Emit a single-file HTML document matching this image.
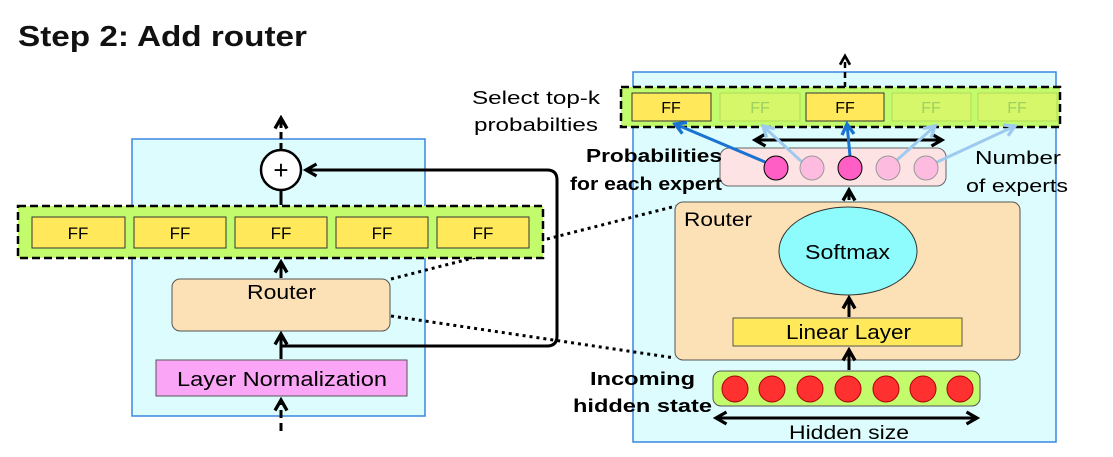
<!DOCTYPE html>
<html><head><meta charset="utf-8"><style>
html,body{margin:0;padding:0;background:#fff;}
svg{display:block;font-family:"Liberation Sans",sans-serif;}
</style></head><body>
<svg width="1113" height="457" viewBox="0 0 1113 457">
<defs>
<marker id="ah" viewBox="0 0 10 10" refX="8" refY="5" markerWidth="5" markerHeight="5" orient="auto-start-reverse"><path d="M1,1 L8,5 L1,9" fill="none" stroke="#000" stroke-width="2.2"/></marker>
<marker id="ab" viewBox="0 0 10 10" refX="8" refY="5" markerWidth="5" markerHeight="5" orient="auto"><path d="M1,1 L8,5 L1,9" fill="none" stroke="#1a73d0" stroke-width="2.2"/></marker>
<marker id="al" viewBox="0 0 10 10" refX="8" refY="5" markerWidth="5" markerHeight="5" orient="auto"><path d="M1,1 L8,5 L1,9" fill="none" stroke="#9fcaef" stroke-width="2.2"/></marker>
</defs>
<text x="18" y="46" font-size="29" font-weight="bold" fill="#111" textLength="289" lengthAdjust="spacingAndGlyphs">Step 2: Add router</text>

<rect x="132" y="139" width="293" height="277" fill="#dcfcfd" stroke="#3a86e0" stroke-width="1.5"/>
<rect x="633" y="72" width="423" height="370" fill="#dcfcfd" stroke="#3a86e0" stroke-width="1.5"/>

<!-- dotted -->
<line x1="391" y1="279" x2="676" y2="206" stroke="#000" stroke-width="3" stroke-dasharray="3,4"/>
<line x1="391" y1="316" x2="675" y2="358" stroke="#000" stroke-width="3" stroke-dasharray="3,4"/>

<!-- left -->
<line x1="281" y1="150" x2="281" y2="118" stroke="#000" stroke-width="3" stroke-dasharray="7,4" marker-end="url(#ah)"/>
<line x1="281" y1="205" x2="281" y2="190" stroke="#000" stroke-width="3"/>
<circle cx="281" cy="170" r="20" fill="#fff" stroke="#000" stroke-width="2.5"/>
<text x="281" y="179" font-size="26" text-anchor="middle">+</text>
<rect x="18" y="206" width="525" height="52" fill="#c2fc6c" stroke="#000" stroke-width="2.5" stroke-dasharray="8,4"/>
<g fill="#ffe95a" stroke="#333" stroke-width="1">
<rect x="32" y="217" width="93" height="31"/><rect x="134" y="217" width="92" height="31"/><rect x="235" y="217" width="92" height="31"/><rect x="336" y="217" width="92" height="31"/><rect x="437" y="217" width="92" height="31"/></g>
<g font-size="17" text-anchor="middle"><text x="78" y="239">FF</text><text x="180" y="239">FF</text><text x="281" y="239">FF</text><text x="382" y="239">FF</text><text x="483" y="239">FF</text></g>
<line x1="281" y1="278" x2="281" y2="262" stroke="#000" stroke-width="3" marker-end="url(#ah)"/>
<rect x="172" y="279" width="218" height="52" rx="8" fill="#fde1b6" stroke="#555" stroke-width="1"/>
<text x="247" y="299" font-size="20" textLength="69" lengthAdjust="spacingAndGlyphs">Router</text>
<line x1="281" y1="359" x2="281" y2="334" stroke="#000" stroke-width="3" marker-end="url(#ah)"/>
<path d="M281,346 H547 Q557,346 557,336 V180 Q557,170 547,170 H306" fill="none" stroke="#000" stroke-width="3" marker-end="url(#ah)"/>
<rect x="156" y="360" width="251" height="36" fill="#fba5f7" stroke="#555" stroke-width="1"/>
<text x="177" y="386" font-size="20" textLength="210" lengthAdjust="spacingAndGlyphs">Layer Normalization</text>
<line x1="281" y1="431" x2="281" y2="400" stroke="#000" stroke-width="3" stroke-dasharray="8,5" marker-end="url(#ah)"/>

<!-- right -->
<line x1="845" y1="88" x2="845" y2="56" stroke="#000" stroke-width="2.5" stroke-dasharray="6,4" marker-end="url(#ah)"/>
<rect x="621" y="87" width="439" height="40" fill="#c2fc6c" stroke="#000" stroke-width="2.5" stroke-dasharray="8,4"/>
<rect x="632" y="93" width="79" height="28" fill="#ffe95a" stroke="#333"/>
<rect x="720" y="93" width="80" height="28" fill="#d6f76a" stroke="#b2da5a"/>
<rect x="806" y="93" width="78" height="28" fill="#ffe95a" stroke="#333"/>
<rect x="892" y="93" width="79" height="28" fill="#d6f76a" stroke="#b2da5a"/>
<rect x="978" y="93" width="79" height="28" fill="#d6f76a" stroke="#b2da5a"/>
<g font-size="16" text-anchor="middle"><text x="671" y="113">FF</text><text x="760" y="113" fill="#9fd060">FF</text><text x="845" y="113">FF</text><text x="931" y="113" fill="#9fd060">FF</text><text x="1017" y="113" fill="#9fd060">FF</text></g>
<line x1="755" y1="140" x2="942" y2="140" stroke="#000" stroke-width="3" marker-start="url(#ah)" marker-end="url(#ah)"/>
<rect x="720" y="148" width="226" height="38" rx="9" fill="#fde3e3" stroke="#666"/>
<g stroke="#9fcaef" stroke-width="3" marker-end="url(#al)">
<line x1="802" y1="162" x2="763" y2="126"/><line x1="897" y1="160" x2="935" y2="126"/><line x1="935" y1="163" x2="1015" y2="126"/></g>
<g stroke="#1a73d0" stroke-width="3" marker-end="url(#ab)">
<line x1="765" y1="162" x2="675" y2="124"/><line x1="850" y1="156" x2="847" y2="124"/></g>
<g stroke="#999" stroke-width="1"><circle cx="776" cy="168" r="12" fill="#ff5fc4" stroke="#000"/><circle cx="812" cy="168" r="12" fill="#fdbbdf"/><circle cx="850" cy="168" r="12" fill="#ff5fc4" stroke="#000"/><circle cx="888" cy="168" r="12" fill="#fdbbdf"/><circle cx="926" cy="168" r="12" fill="#fdbbdf"/></g>
<text x="472" y="104" font-size="18" textLength="128" lengthAdjust="spacingAndGlyphs">Select top-k</text>
<text x="474" y="131" font-size="18" textLength="124" lengthAdjust="spacingAndGlyphs">probabilties</text>
<text x="586" y="162" font-size="18" font-weight="bold" textLength="136" lengthAdjust="spacingAndGlyphs">Probabilities</text>
<text x="570" y="190" font-size="18" font-weight="bold" textLength="152" lengthAdjust="spacingAndGlyphs">for each expert</text>
<text x="975" y="164" font-size="18" textLength="86" lengthAdjust="spacingAndGlyphs">Number</text>
<text x="966" y="192" font-size="18" textLength="102" lengthAdjust="spacingAndGlyphs">of experts</text>
<line x1="849" y1="200" x2="849" y2="190" stroke="#000" stroke-width="3" marker-end="url(#ah)"/>
<rect x="675" y="202" width="345" height="158" rx="8" fill="#fde1b6" stroke="#555"/>
<text x="684" y="226" font-size="19" textLength="68" lengthAdjust="spacingAndGlyphs">Router</text>
<ellipse cx="848" cy="251" rx="69" ry="44" fill="#8efcfc" stroke="#333"/>
<text x="805" y="259" font-size="20" textLength="85" lengthAdjust="spacingAndGlyphs">Softmax</text>
<line x1="849" y1="317" x2="849" y2="298" stroke="#000" stroke-width="3" marker-end="url(#ah)"/>
<rect x="733" y="318" width="229" height="28" fill="#ffe95a" stroke="#555"/>
<text x="786" y="339" font-size="20" textLength="125" lengthAdjust="spacingAndGlyphs">Linear Layer</text>
<line x1="849" y1="370" x2="849" y2="350" stroke="#000" stroke-width="3" marker-end="url(#ah)"/>
<rect x="713" y="371" width="267" height="35" rx="8" fill="#c2fc6c" stroke="#555"/>
<g fill="#fe3030" stroke="#a00" stroke-width="1"><circle cx="735" cy="389" r="13"/><circle cx="772" cy="389" r="13"/><circle cx="810" cy="389" r="13"/><circle cx="848" cy="389" r="13"/><circle cx="886" cy="389" r="13"/><circle cx="923" cy="389" r="13"/><circle cx="960" cy="389" r="13"/></g>
<text x="590" y="385" font-size="18" font-weight="bold" textLength="105" lengthAdjust="spacingAndGlyphs">Incoming</text>
<text x="573" y="412" font-size="18" font-weight="bold" textLength="139" lengthAdjust="spacingAndGlyphs">hidden state</text>
<line x1="716" y1="418" x2="977" y2="418" stroke="#000" stroke-width="3" marker-start="url(#ah)" marker-end="url(#ah)"/>
<text x="789" y="439" font-size="19" textLength="120" lengthAdjust="spacingAndGlyphs">Hidden size</text>
</svg>
</body></html>
